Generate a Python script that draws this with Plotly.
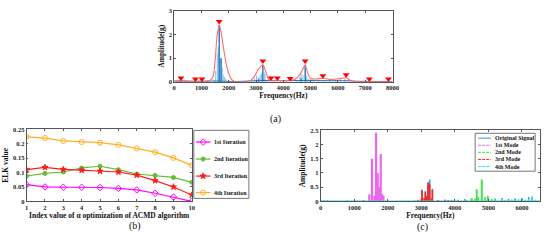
import plotly.graph_objects as go

# ---------------- (a) envelope spectrum ----------------
a_stem_freq = [1450, 1520, 1580, 1620, 1650, 1690, 1720, 1760, 1800, 1850, 1900,
               2850, 2950, 3020, 3080, 3150, 3200, 3250, 3300, 3330, 3400,
               3550, 3700, 3900, 4100, 4300, 4500, 4600, 4650, 4720, 4800, 4850, 4900, 4980,
               5100, 5300, 5500, 5700, 5900, 6100, 6250, 6400, 200, 400, 700, 1000, 1200]
a_stem_amp = [0.08, 0.45, 1.2, 1.5, 2.4, 1.0, 0.95, 0.6, 0.3, 0.2, 0.12,
              0.06, 0.15, 0.28, 0.2, 0.3, 0.35, 0.72, 0.4, 0.3, 0.1,
              0.06, 0.05, 0.06, 0.05, 0.05, 0.08, 0.2, 0.35, 0.3, 0.72, 0.25, 0.15, 0.12,
              0.08, 0.06, 0.07, 0.06, 0.08, 0.1, 0.12, 0.06, 0.04, 0.03, 0.03, 0.03, 0.03]
a_dark_freq = [1650, 1720, 3250, 3100, 4800, 4650]
a_dark_amp = [2.4, 1.0, 0.72, 0.12, 0.72, 0.15]
a_base_freq = [0, 300, 600, 900, 1200, 1400, 2200, 2600, 2800, 3000, 3400, 3600, 3800, 4000, 4200,
               4400, 4600, 5000, 5200, 5400, 5600, 5800, 6000, 6200, 6400, 6600, 7000, 8000]
a_base_amp = [0.02, 0.03, 0.01, 0.02, 0.02, 0.03, 0.01, 0.01, 0.02, 0.04, 0.05, 0.04, 0.05, 0.04, 0.05,
              0.05, 0.06, 0.05, 0.04, 0.05, 0.04, 0.05, 0.07, 0.06, 0.04, 0.02, 0.01, 0.01]
a_env_freq = [0, 250, 500, 780, 1020, 1300, 1420, 1500, 1580, 1650, 1720, 1800, 1900, 2000, 2100, 2200,
              2600, 2800, 2950, 3100, 3250, 3350, 3450, 3550, 3780, 4000, 4250, 4450, 4600, 4700, 4800,
              4900, 5000, 5200, 5450, 5700, 6000, 6300, 6450, 6600, 7150, 8000]
a_env_amp = [0.03, 0.05, 0.03, 0.02, 0.03, 0.05, 0.2, 0.9, 2.0, 2.4, 2.1, 1.5, 0.8, 0.35, 0.1, 0.02,
             0.0, 0.05, 0.25, 0.55, 0.72, 0.45, 0.12, 0.05, 0.06, 0.05, 0.06, 0.12, 0.3, 0.5, 0.7,
             0.35, 0.14, 0.12, 0.15, 0.1, 0.12, 0.17, 0.06, 0.02, 0.01, 0.0]
a_mark_freq = [250, 780, 1020, 1650, 3250, 3550, 3780, 4250, 4800, 5450, 6300, 7150, 7850]
a_mark_amp = [0.16, 0.12, 0.12, 2.55, 0.88, 0.16, 0.16, 0.14, 0.88, 0.25, 0.3, 0.12, 0.12]

# ---------------- (b) ELK values ----------------
b_index = [1, 2, 3, 4, 5, 6, 7, 8, 9, 10]
b_iter1 = [0.058, 0.050, 0.049, 0.049, 0.048, 0.045, 0.040, 0.028, 0.015, 0.000]
b_iter2 = [0.088, 0.097, 0.102, 0.116, 0.122, 0.110, 0.095, 0.090, 0.083, 0.066]
b_iter3 = [0.110, 0.118, 0.111, 0.108, 0.105, 0.102, 0.091, 0.072, 0.050, 0.022]
b_iter4 = [0.224, 0.220, 0.210, 0.206, 0.204, 0.196, 0.184, 0.171, 0.151, 0.125]
b_names = ["1st Iteration", "2nd Iteration", "3rd Iteration", "4th Iteration"]

# ---------------- (c) mode spectra ----------------
c_orig_freq = [0, 100, 200, 300, 500, 800, 1100, 1300, 2600, 2800, 2900, 3000, 3020, 3120, 3200, 3250, 3330,
               3500, 3700, 3900, 4100, 4300, 4500, 4650, 4800, 4980, 5200, 5400, 5600, 5800, 6000, 6200, 6300]
c_orig_amp = [0.05, 0.04, 0.04, 0.02, 0.02, 0.03, 0.02, 0.02, 0.02, 0.03, 0.06, 0.05, 0.42, 0.36, 0.68, 0.77, 0.44,
              0.05, 0.06, 0.05, 0.06, 0.08, 0.12, 0.4, 0.75, 0.18, 0.1, 0.12, 0.08, 0.1, 0.12, 0.15, 0.17]
c_m1_freq = [1280, 1450, 1530, 1600, 1650, 1700, 1740, 1760, 1790, 1830, 1870]
c_m1_amp = [0.05, 0.25, 1.5, 0.2, 2.42, 1.0, 0.5, 0.45, 1.67, 0.25, 0.2]
c_m2_freq = [4350, 4500, 4600, 4650, 4700, 4800, 4900, 4980, 5100, 5200]
c_m2_amp = [0.05, 0.12, 0.1, 0.43, 0.15, 0.77, 0.15, 0.18, 0.08, 0.08]
c_m3_freq = [2900, 3000, 3020, 3080, 3120, 3160, 3200, 3250, 3300, 3330, 3500, 3700, 3800]
c_m3_amp = [0.05, 0.08, 0.38, 0.12, 0.32, 0.2, 0.65, 0.6, 0.1, 0.4, 0.05, 0.06, 0.05]
c_m4_freq = [5000, 5200, 5400, 5500, 5700, 5900, 6000, 6100, 6200, 6300, 6400]
c_m4_amp = [0.05, 0.06, 0.08, 0.05, 0.07, 0.08, 0.1, 0.06, 0.08, 0.15, 0.06]
c_names = ["Original Signal", "1st Mode", "2nd Mode", "3rd Mode", "4th Mode"]


def stems(freq, amp):
    xs, ys = [], []
    for f, a in zip(freq, amp):
        xs += [f, f, None]
        ys += [0, a, None]
    return xs, ys


FONT = "Liberation Serif"
TXT = "#111111"
fig = go.Figure()

# (a)
x, y = stems(a_stem_freq, a_stem_amp)
fig.add_trace(go.Scatter(x=x, y=y, mode="lines", line=dict(color="#8CC3EC", width=1.1),
                         xaxis="x", yaxis="y", showlegend=False))
fig.add_trace(go.Scatter(x=a_base_freq, y=a_base_amp, mode="lines", line=dict(color="#005A9E", width=0.9),
                         xaxis="x", yaxis="y", showlegend=False))
x, y = stems(a_dark_freq, a_dark_amp)
fig.add_trace(go.Scatter(x=x, y=y, mode="lines", line=dict(color="#0062AD", width=1.0),
                         xaxis="x", yaxis="y", showlegend=False))
fig.add_trace(go.Scatter(x=a_env_freq, y=a_env_amp, mode="lines",
                         line=dict(color="#FF6B6B", width=1.1, shape="spline", smoothing=0.8),
                         xaxis="x", yaxis="y", showlegend=False))
fig.add_trace(go.Scatter(x=a_mark_freq, y=a_mark_amp, mode="markers",
                         marker=dict(symbol="triangle-down", color="#FF0000", size=6),
                         xaxis="x", yaxis="y", showlegend=False))

# (b)
b_series = [b_iter1, b_iter2, b_iter3, b_iter4]
b_colors = ["#FF00FF", "#66BB33", "#FF1A1A", "#FFB020"]
b_symbols = ["diamond-open", "circle", "star", "circle-open"]
b_sizes = [5, 4, 4.5, 5]
for vals, name, col, sym, sz in zip(b_series, b_names, b_colors, b_symbols, b_sizes):
    fig.add_trace(go.Scatter(x=b_index, y=vals, mode="lines+markers", name=name,
                             line=dict(color=col, width=1.2),
                             marker=dict(symbol=sym, color=col, size=sz, line=dict(color=col, width=1)),
                             xaxis="x2", yaxis="y2", showlegend=False))

# (c)
c_data = [(c_orig_freq, c_orig_amp), (c_m1_freq, c_m1_amp), (c_m2_freq, c_m2_amp),
          (c_m3_freq, c_m3_amp), (c_m4_freq, c_m4_amp)]
c_colors = ["#3A8FD9", "#EE66EE", "#33EE33", "#FF2020", "#22EEEE"]
c_widths = [1.5, 2.2, 1.6, 1.6, 1.4]
c_dash = ["solid", "dash", "dash", "dash", "dash"]
for (fr, am), name, col, w in zip(c_data, c_names, c_colors, c_widths):
    x, y = stems(fr, am)
    fig.add_trace(go.Scatter(x=x, y=y, mode="lines", name=name,
                             line=dict(color=col, width=w),
                             xaxis="x3", yaxis="y3", showlegend=False))
# baseline of the original signal / 4th mode along the axis
fig.add_trace(go.Scatter(x=[0, 6540], y=[0.01, 0.01], mode="lines", line=dict(color="#22DDEE", width=1.2),
                         xaxis="x3", yaxis="y3", showlegend=False))

# ---------------- hand-drawn legends on a pixel overlay axis ----------------
lb_y = [142, 159.5, 177, 194]
for yy, name, col, sym, sz in zip(lb_y, b_names, b_colors, b_symbols, b_sizes):
    fig.add_trace(go.Scatter(x=[197, 212], y=[yy, yy], mode="lines", line=dict(color=col, width=1.2),
                             xaxis="x4", yaxis="y4", showlegend=False, hoverinfo="skip"))
    fig.add_trace(go.Scatter(x=[204.5], y=[yy], mode="markers",
                             marker=dict(symbol=sym, color=col, size=sz, line=dict(color=col, width=1)),
                             xaxis="x4", yaxis="y4", showlegend=False, hoverinfo="skip"))
lc_y = [138, 145.3, 152.6, 159.9, 167.2]
for yy, name, col, dsh in zip(lc_y, c_names, c_colors, c_dash):
    fig.add_trace(go.Scatter(x=[484, 497], y=[yy, yy], mode="lines",
                             line=dict(color=col, width=1, dash="solid" if dsh == "solid" else "3px,1px"),
                             xaxis="x4", yaxis="y4", showlegend=False, hoverinfo="skip"))

legend_ann = []
for yy, name in zip(lb_y, b_names):
    legend_ann.append(dict(text=name, x=213, y=yy, xref="x4", yref="y4", xanchor="left", yanchor="middle",
                           showarrow=False, font=dict(family=FONT, size=6, color=TXT, weight="bold")))
for yy, name in zip(lc_y, c_names):
    legend_ann.append(dict(text=name, x=499, y=yy, xref="x4", yref="y4", xanchor="left", yanchor="middle",
                           showarrow=False, font=dict(family=FONT, size=6, color=TXT, weight="bold")))

axis_common = dict(showline=True, linecolor="#555555", linewidth=0.8, mirror="allticks",
                   ticks="inside", ticklen=2, tickcolor="#555555", showgrid=False, zeroline=False,
                   tickfont=dict(family=FONT, size=6.5, color="#222222", weight="bold"))
title_font = dict(family=FONT, size=7.5, color=TXT, weight="bold")

fig.update_layout(
    width=550, height=251, margin=dict(l=0, r=0, t=0, b=0),
    paper_bgcolor="white", plot_bgcolor="rgba(0,0,0,0)",
    font=dict(family=FONT),
    xaxis=dict(domain=[175 / 550, 397 / 550], anchor="y", range=[0, 8000], dtick=1000,
               title=dict(text="Frequency(Hz)", font=title_font, standoff=0), **axis_common),
    yaxis=dict(domain=[1 - 80 / 251, 1 - 7 / 251], anchor="x", range=[0, 3], dtick=1,
               title=dict(text="Amplitude(g)", font=title_font, standoff=3), **axis_common),
    xaxis2=dict(domain=[25 / 550, 193 / 550], anchor="y2", range=[1, 10], dtick=1,
                title=dict(text="Index value of α optimization of ACMD algorithm", font=title_font, standoff=0),
                **axis_common),
    yaxis2=dict(domain=[1 - 203 / 251, 1 - 129 / 251], anchor="x2", range=[0, 0.25], dtick=0.05,
                title=dict(text="ELK value", font=title_font, standoff=3), **axis_common),
    xaxis3=dict(domain=[324 / 550, 547 / 550], anchor="y3", range=[0, 6540], dtick=1000,
                title=dict(text="Frequency(Hz)", font=title_font, standoff=0), **axis_common),
    yaxis3=dict(domain=[1 - 203 / 251, 1 - 130 / 251], anchor="x3", range=[0, 2.5], dtick=0.5,
                title=dict(text="Amplitude(g)", font=title_font, standoff=3), **axis_common),
    xaxis4=dict(domain=[0, 1], anchor="y4", range=[0, 550], visible=False, fixedrange=True),
    yaxis4=dict(domain=[0, 1], anchor="x4", range=[251, 0], visible=False, fixedrange=True),
    showlegend=False,
    shapes=[
        dict(type="rect", xref="x4", yref="y4", x0=195, x1=251, y0=130, y1=200,
             line=dict(color="#555555", width=0.8), fillcolor="rgba(0,0,0,0)", layer="below"),
        dict(type="rect", xref="x4", yref="y4", x0=481, x1=542, y0=133, y1=172,
             line=dict(color="#555555", width=0.8), fillcolor="white", layer="below"),
    ],
    annotations=legend_ann + [
        dict(text="(a)", x=278 / 550, y=1 - 118 / 251, xref="paper", yref="paper", showarrow=False,
             font=dict(family=FONT, size=10, color=TXT)),
        dict(text="(b)", x=127 / 550, y=1 - 237 / 251, xref="paper", yref="paper", showarrow=False,
             font=dict(family=FONT, size=10, color=TXT)),
        dict(text="(c)", x=435 / 550, y=1 - 238 / 251, xref="paper", yref="paper", showarrow=False,
             font=dict(family=FONT, size=10, color=TXT)),
    ],
)

fig.write_html("out.html", config={"displayModeBar": False},
               post_script="document.body.style.margin='0';document.body.style.padding='0';")
